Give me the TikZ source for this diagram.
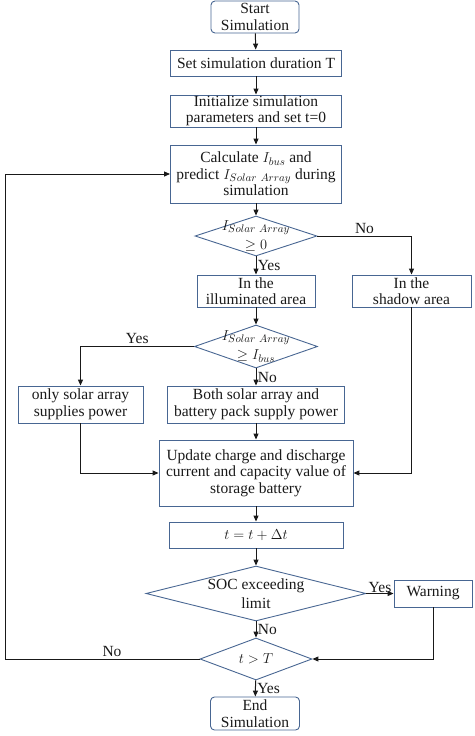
\documentclass[tikz,border=0pt]{standalone}
\usepackage{fontspec}
\setmainfont{Liberation Serif}
\definecolor{frame}{RGB}{72,102,146}
\definecolor{ink}{RGB}{25,25,25}
\usetikzlibrary{arrows.meta,shapes.geometric}

\begin{document}
\begin{tikzpicture}[x=1pt, y=-1pt,
    every node/.style={font=\fontsize{15.5}{16.5}\selectfont, text=ink},
    wh/.style 2 args={minimum width=#1pt, minimum height=#2pt},
    box/.style={draw=frame, line width=0.9pt, rectangle, align=center, inner sep=0pt},
    term/.style={box, rounded corners=4pt},
    decide/.style={draw=frame, line width=0.9pt, diamond, inner sep=0pt},
    cond/.style={align=center, font=\fontsize{15.5}{19.5}\selectfont},
    flow/.style={-{Triangle[length=6pt,width=5pt]}, line width=1pt, ink}]
  \useasboundingbox (0,0) rectangle (474,736);

  \node[term, wh={88}{32}] (start) at (255,17) {Start\\Simulation};
  \node[box, wh={171}{26}] (dur) at (256,63) {Set simulation duration T};
  \node[box, wh={171}{32}] (init) at (256,111) {Initialize simulation\\parameters and set t=0};
  \node[box, wh={171}{58}] (calc) at (256,174) {Calculate $I_{bus}$ and\\predict $I_{Solar\ Array}$ during\\simulation};

  \node[decide, wh={122}{40}, label={[cond]center:{$I_{Solar\ Array}$\\$\geq 0$}}] (sun) at (256,236) {};
  \node[box, wh={118}{32}] (lit) at (256,291) {In the\\illuminated area};
  \node[box, wh={119}{32}] (shade) at (411.5,291) {In the\\shadow area};

  \node[decide, wh={123}{43}, label={[cond]center:{$I_{Solar\ Array}$\\$\geq I_{bus}$}}] (cmp) at (256,346.5) {};
  \node[box, wh={125}{37}] (solo) at (80.5,404.5) {only solar array\\supplies power};
  \node[box, wh={177}{37}] (both) at (256,404.5) {Both solar array and\\battery pack supply power};

  \node[box, wh={194}{66}] (upd) at (256,473) {Update charge and discharge\\current and capacity value of\\storage battery};
  \node[box, wh={174}{26}] (tick) at (256,535) {$t = t + \Delta t$};

  \node[decide, wh={220}{55}, label={[cond]center:{SOC exceeding\\limit}}] (soc) at (256,593.5) {};
  \node[box, wh={78}{27}] (warn) at (433,593.5) {Warning};
  \node[decide, wh={112}{42}, label={center:$t > T$}] (stop) at (256,659) {};
  \node[term, wh={89}{33}] (end) at (255,713.5) {End\\Simulation};
  \coordinate (back) at (5,659);

  \draw[flow] (start) -- (dur);
  \draw[flow] (dur) -- (init);
  \draw[flow] (init) -- (calc);
  \draw[flow] (calc) -- (sun);
  \draw[flow] (sun) -- node[right=-2pt] {Yes} (lit);
  \draw[flow] (sun.east) -| node[pos=0.25, above=-1pt] {No} (shade);
  \draw[flow] (lit) -- (cmp);
  \draw[flow] (cmp) -- node[right=-2pt] {No} (both);
  \draw[flow] (cmp.west) -| node[pos=0.25, above=-1pt] {Yes} (solo);
  \draw[flow] (both) -- (upd);
  \draw[flow] (solo.south) |- (upd.west);
  \draw[flow] (shade.south) |- (upd.east);
  \draw[flow] (upd) -- (tick);
  \draw[flow] (tick) -- (soc);
  \draw[flow] (soc.east) -- node[above=-3pt] {Yes} (warn.west);
  \draw[flow] (soc) -- node[right=-2pt] {No} (stop);
  \draw[flow] (warn.south) |- (stop.east);
  \draw[flow] (stop.west) -- node[pos=0.45, above=-1pt] {No} (back) |- (calc.west);
  \draw[flow] (stop) -- node[right=-2pt] {Yes} (end);
\end{tikzpicture}
\end{document}
